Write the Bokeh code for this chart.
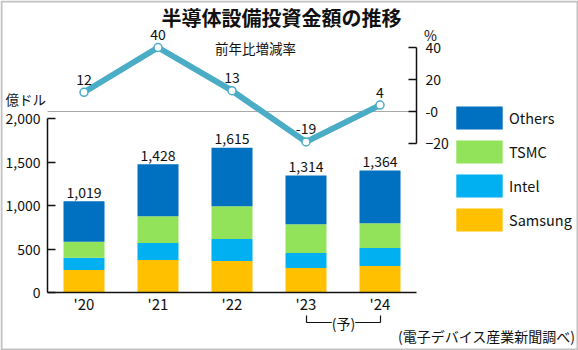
from bokeh.plotting import figure
from bokeh.models import (ColumnDataSource, Range1d, LinearAxis, FixedTicker,
                          NumeralTickFormatter, Legend, LegendItem, Label, Arrow,
                          BoxAnnotation)
from bokeh.core.properties import value
from bokeh.embed import file_html
from bokeh.resources import INLINE

# ---- data ----
years = ["'20", "'21", "'22", "'23", "'24"]
samsung = [259, 374, 362, 282, 305]
intel = [141, 194, 252, 172, 206]
tsmc = [183, 309, 377, 331, 286]
others = [465, 597, 674, 560, 605]
totals = [1019, 1428, 1615, 1314, 1364]
growth = [12, 40, 13, -19, 4]
series = ["Samsung", "Intel", "TSMC", "Others"]
colors = ["#FFC000", "#00B0F0", "#92E35A", "#0070C0"]
left_ticks = [0, 500, 1000, 1500, 2000]
right_ticks = [-20, 0, 20, 40]

FONT = "Noto Sans CJK JP"
LINE_COLOR = "#4BACC6"
TXT = "#111111"

# ---- geometry (canvas pixels, origin top-left) ----
W, H = 578, 350
X0, PX_PER_CAT = 83.5, 74.0          # centre of first bar, distance between bars
AX_L, AX_R, AX_B = 47, 416, 292      # left axis x, right axis x, baseline y
PX_PER_UNIT = 0.087                  # px per 億ドル
PX_PER_PCT = 1.6
ZERO_PCT_Y = 111


def xdata(X):
    return (X - X0) / PX_PER_CAT


def sx(X):
    return X


def sy(Y):
    return H - Y


xs = list(range(len(years)))

p = figure(width=W, height=H,
           x_range=Range1d(xdata(0), xdata(W)),
           y_range=Range1d(-(H - AX_B) / PX_PER_UNIT, AX_B / PX_PER_UNIT),
           output_backend="svg", toolbar_location=None, title=None,
           x_axis_location=None, y_axis_location=None,
           min_border=0, min_border_left=0, min_border_right=0,
           min_border_top=0, min_border_bottom=0)
p.extra_y_ranges = {"pct": Range1d(-(H - ZERO_PCT_Y) / PX_PER_PCT, ZERO_PCT_Y / PX_PER_PCT)}
p.outline_line_color = None
p.xgrid.visible = False
p.ygrid.visible = False
p.background_fill_color = "white"
p.border_fill_color = "white"

src = ColumnDataSource(dict(x=xs, Samsung=samsung, Intel=intel, TSMC=tsmc, Others=others,
                            top=[a + b + c + d for a, b, c, d in zip(samsung, intel, tsmc, others)],
                            total=[f"{t:,}" for t in totals],
                            growth=growth, glabel=[str(g) for g in growth]))

# zero reference line of the percentage scale, between the two axes
p.segment(x0=[xdata(AX_L)], x1=[xdata(AX_R)], y0=[0], y1=[0], y_range_name="pct",
          line_color="#AAAAAA", line_width=1)

renderers = p.vbar_stack(series, x="x", width=41 / PX_PER_CAT, color=colors, line_color=None, source=src)

p.text(x="x", y="top", text="total", source=src, text_align="center", text_baseline="middle",
       y_offset=-9, text_font=value(FONT), text_font_size="14px", text_color=TXT)

p.line(x="x", y="growth", source=src, y_range_name="pct", line_color=LINE_COLOR, line_width=6)
p.scatter(x="x", y="growth", source=src, y_range_name="pct", size=8, fill_color="white",
          line_color=LINE_COLOR, line_width=1.5)
p.text(x="x", y="growth", text="glabel", source=src, y_range_name="pct", text_align="center",
       text_baseline="middle", y_offset=-13, text_font=value(FONT), text_font_size="14px", text_color=TXT)


def style_axis(a, size="14px"):
    a.major_tick_in = 8
    a.major_tick_out = 0
    a.minor_tick_line_color = None
    a.axis_line_width = 1.5
    a.major_tick_line_width = 1.5
    a.axis_line_color = TXT
    a.major_tick_line_color = TXT
    a.major_label_text_font = FONT
    a.major_label_text_font_size = size
    a.major_label_text_color = TXT


# left axis
ya = LinearAxis(fixed_location=xdata(AX_L), bounds=(0, 2000), ticker=FixedTicker(ticks=left_ticks),
                formatter=NumeralTickFormatter(format="0,0"))
style_axis(ya)
ya.major_label_standoff = 7
p.add_layout(ya, "left")

# right axis (percent)
ra = LinearAxis(y_range_name="pct", fixed_location=xdata(AX_R), bounds=(-20, 40),
                ticker=FixedTicker(ticks=right_ticks), major_label_overrides={0: "-0"})
style_axis(ra)
ra.major_label_standoff = 9
p.add_layout(ra, "right")

# bottom axis
xa = LinearAxis(fixed_location=0, bounds=(xdata(AX_L), xdata(AX_R)), ticker=FixedTicker(ticks=xs),
                major_label_overrides={i: y for i, y in zip(xs, years)})
style_axis(xa, size="15px")
xa.major_tick_in = 0
xa.major_tick_line_color = None
xa.major_label_standoff = 0
p.add_layout(xa, "below")

# legend
items = [LegendItem(label=s, renderers=[r]) for s, r in zip(series, renderers)][::-1]
legend = Legend(items=items, location=(sx(450), sy(234)), glyph_width=58, glyph_height=29, spacing=5,
                padding=0, margin=0, label_standoff=1, border_line_color=None, background_fill_alpha=0,
                label_text_font=FONT, label_text_font_size="14.5px", label_text_color=TXT)
p.add_layout(legend)


# texts
def lab(X, Y, text, size="14px", align="left", bold=False, bg=None):
    l = Label(x=sx(X), y=sy(Y), x_units="screen", y_units="screen", text=text, text_align=align,
              text_baseline="middle", text_font=FONT, text_font_size=size, text_color=TXT,
              text_font_style="bold" if bold else "normal")
    if bg:
        l.background_fill_color = bg
    p.add_layout(l)
    return l


lab(281, 17, "半導体設備投資金額の推移", size="20px", align="center", bold=True)
lab(255, 47, "前年比増減率", size="13.5px", align="center")
lab(430, 34, "%", size="14px", align="center")
lab(5, 98, "億ドル", size="13.5px")
lab(575, 335, "(電子デバイス産業新聞調べ)", size="14px", align="right")

# forecast bracket
for (x0, y0, x1, y1) in [(306, 315, 306, 322), (380, 315, 380, 322), (306, 322, 380, 322)]:
    p.add_layout(Arrow(x_start=sx(x0), y_start=sy(y0), x_end=sx(x1), y_end=sy(y1),
                       start_units="screen", end_units="screen", end=None,
                       line_color=TXT, line_width=1.2))
lab(343, 322, "(予)", size="14px", align="center", bg="white")

# outer border
p.add_layout(BoxAnnotation(left=sx(1), right=sx(577), top=sy(1), bottom=sy(349),
                           left_units="screen", right_units="screen", top_units="screen",
                           bottom_units="screen", fill_alpha=0, line_color="#333333", line_width=2))

open("out.html", "w").write(file_html(p, INLINE))
